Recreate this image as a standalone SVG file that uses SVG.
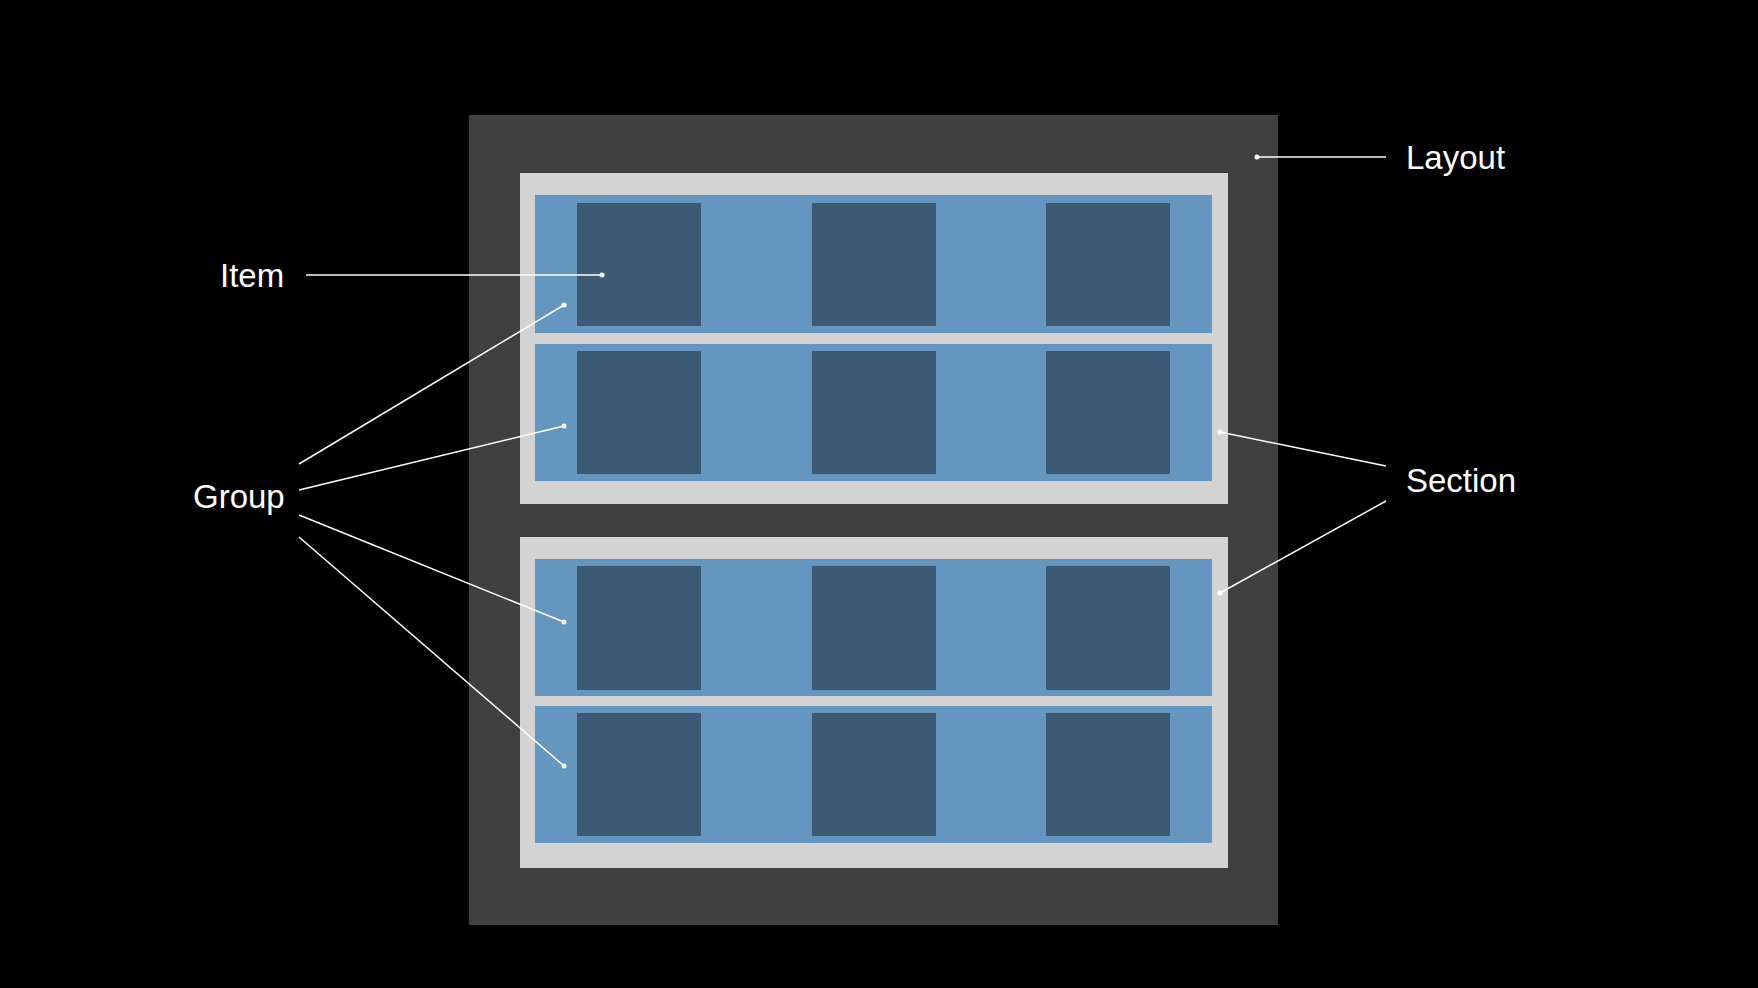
<svg xmlns="http://www.w3.org/2000/svg" width="1758" height="988" viewBox="0 0 1758 988">
<style>
.sec{fill:#d3d3d3}.grp{fill:#6596c0}.itm{fill:#3c5a74}
.lbl{font-family:"Liberation Sans",Arial,sans-serif;font-size:33px;fill:#fff}
.ln{stroke:#fff;stroke-width:1.5;fill:none}
.dot{fill:#fff}
</style>
<rect width="1758" height="988" fill="#000"/>
<g id="layout"><rect x="469" y="115" width="809" height="810" fill="#404040"/></g>
<g id="section1"><rect class="sec" x="520" y="173" width="708" height="331"/></g>
<g id="section2"><rect class="sec" x="520" y="537" width="708" height="331"/></g>
<g id="group1"><rect class="grp" x="535" y="195" width="677" height="138"/>
<rect class="itm" x="577" y="203" width="124" height="123"/><rect class="itm" x="812" y="203" width="124" height="123"/><rect class="itm" x="1046" y="203" width="124" height="123"/></g>
<g id="group2"><rect class="grp" x="535" y="344" width="677" height="137"/>
<rect class="itm" x="577" y="351" width="124" height="123"/><rect class="itm" x="812" y="351" width="124" height="123"/><rect class="itm" x="1046" y="351" width="124" height="123"/></g>
<g id="group3"><rect class="grp" x="535" y="559" width="677" height="137"/>
<rect class="itm" x="577" y="566" width="124" height="124"/><rect class="itm" x="812" y="566" width="124" height="124"/><rect class="itm" x="1046" y="566" width="124" height="124"/></g>
<g id="group4"><rect class="grp" x="535" y="706" width="677" height="137"/>
<rect class="itm" x="577" y="713" width="124" height="123"/><rect class="itm" x="812" y="713" width="124" height="123"/><rect class="itm" x="1046" y="713" width="124" height="123"/></g>
<g id="labels">
<text class="lbl" x="1406" y="169">Layout</text>
<text class="lbl" x="1406" y="492">Section</text>
<text class="lbl" x="220" y="287">Item</text>
<text class="lbl" x="193" y="508">Group</text>
</g>
<g id="connectors">
<line class="ln" x1="1257" y1="157" x2="1386" y2="157"/><circle class="dot" cx="1257" cy="157" r="2.5"/>
<line class="ln" x1="306" y1="275" x2="602" y2="275"/><circle class="dot" cx="602" cy="275" r="2.5"/>
<line class="ln" x1="299" y1="464" x2="564" y2="305"/><circle class="dot" cx="564" cy="305" r="2.5"/>
<line class="ln" x1="299" y1="490" x2="564" y2="426"/><circle class="dot" cx="564" cy="426" r="2.5"/>
<line class="ln" x1="299" y1="515" x2="564" y2="622"/><circle class="dot" cx="564" cy="622" r="2.5"/>
<line class="ln" x1="299" y1="537" x2="564" y2="766"/><circle class="dot" cx="564" cy="766" r="2.5"/>
<line class="ln" x1="1386" y1="466" x2="1220" y2="432"/><circle class="dot" cx="1220" cy="432" r="2.5"/>
<line class="ln" x1="1386" y1="501" x2="1220" y2="593"/><circle class="dot" cx="1220" cy="593" r="2.5"/>
</g>
</svg>
